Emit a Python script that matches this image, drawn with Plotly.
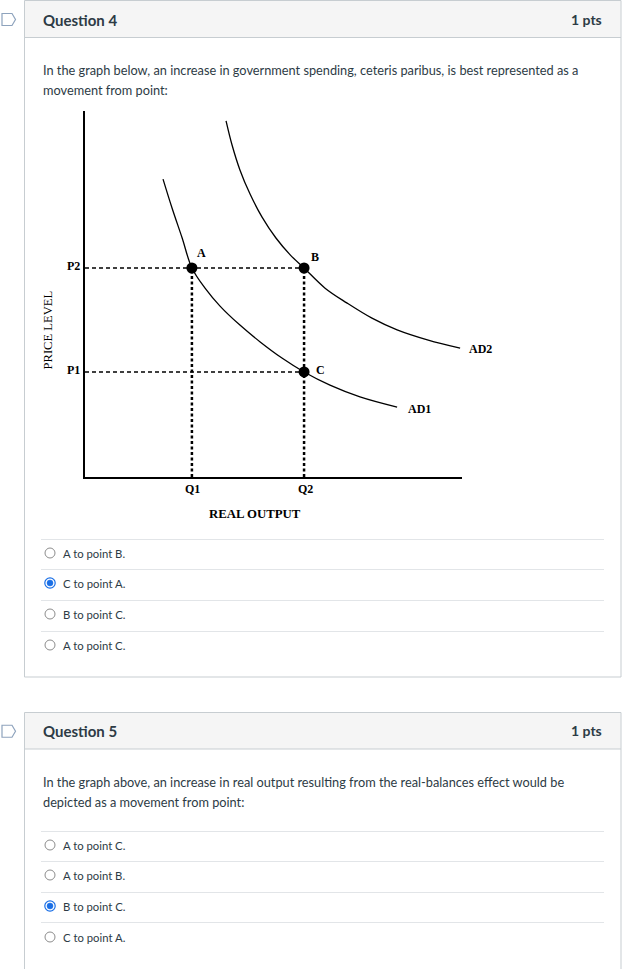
import plotly.graph_objects as go

W, H = 635, 969

# ---------------- data ----------------
q_labels = ["Q1", "Q2"]
q_levels = [2.85, 5.84]
p_labels = ["P1", "P2"]
p_levels = [2.87, 5.71]

ad1_x = [2.08, 2.32, 2.59, 2.85, 3.20, 3.60, 4.13, 4.67, 5.25, 5.84, 6.53, 7.33, 8.32]
ad1_y = [8.14, 7.35, 6.53, 5.71, 5.16, 4.67, 4.15, 3.69, 3.25, 2.87, 2.51, 2.19, 1.91]
ad2_x = [3.76, 3.92, 4.13, 4.40, 4.72, 5.09, 5.47, 5.84, 6.40, 6.99, 7.65, 8.32, 9.15, 10.0]
ad2_y = [9.73, 9.07, 8.39, 7.73, 7.10, 6.53, 6.07, 5.71, 5.16, 4.75, 4.34, 4.02, 3.74, 3.52]

point_names = ["A", "B", "C"]
point_x = [2.85, 5.84, 5.84]
point_y = [5.71, 5.71, 2.87]

q4_title = "Question 4"
q4_text = ["In the graph below, an increase in government spending, ceteris paribus, is best represented as a",
           "movement from point:"]
q4_options = ["A to point B.", "C to point A.", "B to point C.", "A to point C."]
q4_selected = 1
q5_title = "Question 5"
q5_text = ["In the graph above, an increase in real output resulting from the real-balances effect would be",
           "depicted as a movement from point:"]
q5_options = ["A to point C.", "A to point B.", "B to point C.", "C to point A."]
q5_selected = 2
pts_label = "1 pts"

# ---------------- helpers ----------------
def X(px):
    return px / W

def Y(py):
    return 1 - py / H

TXT = "#2d3b45"
BORDER = "#c7cdd1"
SEP = "#e2e5e8"
SERIF = "Liberation Serif"
SANS = "Lato"

fig = go.Figure()

# curves
fig.add_trace(go.Scatter(x=ad1_x, y=ad1_y, mode="lines", line=dict(color="black", width=1.3, shape="spline"),
                         hoverinfo="skip"))
fig.add_trace(go.Scatter(x=ad2_x, y=ad2_y, mode="lines", line=dict(color="black", width=1.3, shape="spline"),
                         hoverinfo="skip"))
# dashed guides
for p in p_levels:
    fig.add_trace(go.Scatter(x=[0, q_levels[1]], y=[p, p], mode="lines",
                             line=dict(color="black", width=1.5, dash="4px,3px"), hoverinfo="skip"))
for q in q_levels:
    fig.add_trace(go.Scatter(x=[q, q], y=[0, p_levels[1]], mode="lines",
                             line=dict(color="black", width=2.5, dash="3px,2.5px"), hoverinfo="skip"))
# points
fig.add_trace(go.Scatter(x=point_x, y=point_y, mode="markers",
                         marker=dict(color="black", size=11), hoverinfo="skip", cliponaxis=False))

annotations = []

def ann(**kw):
    kw.setdefault("showarrow", False)
    kw.setdefault("xanchor", "center")
    kw.setdefault("yanchor", "middle")
    annotations.append(kw)

lab_font = dict(family=SERIF, size=12, color="black")
shifts = {"A": (10, 15), "B": (11, 11), "C": (16, 2)}
for n, x, y in zip(point_names, point_x, point_y):
    dx, dy = shifts[n]
    ann(x=x, y=y, xref="x", yref="y", text="<b>%s</b>" % n, xshift=dx, yshift=dy, font=lab_font)
for lab, q in zip(q_labels, q_levels):
    ann(x=q, y=0, xref="x", yref="y", text="<b>%s</b>" % lab, yshift=-12, xshift=1, font=lab_font)
for lab, p in zip(p_labels, p_levels):
    ann(x=0, y=p, xref="x", yref="y", text="<b>%s</b>" % lab, xanchor="right", xshift=-3, yshift=2,
        font=lab_font)
ann(x=ad1_x[-1], y=ad1_y[-1], xref="x", yref="y", text="<b>AD1</b>", xanchor="left", xshift=9, yshift=-2,
    font=dict(family=SERIF, size=12, color="black"))
ann(x=ad2_x[-1], y=ad2_y[-1], xref="x", yref="y", text="<b>AD2</b>", xanchor="left", xshift=7, yshift=-1,
    font=dict(family=SERIF, size=12, color="black"))
ann(x=X(255.5), y=Y(514), xref="paper", yref="paper", text="<b>REAL OUTPUT</b>",
    font=dict(family=SERIF, size=12.8, color="black"))
ann(x=X(47.5), y=Y(330), xref="paper", yref="paper", text="PRICE LEVEL", textangle=-90,
    font=dict(family=SERIF, size=12.6, color="black"))

shapes = []

def rect(x0, y0, x1, y1, line=None, fill=None):
    shapes.append(dict(type="rect", xref="paper", yref="paper", x0=X(x0), x1=X(x1), y0=Y(y1), y1=Y(y0),
                       line=dict(color=line or "rgba(0,0,0,0)", width=1 if line else 0),
                       fillcolor=fill or "rgba(0,0,0,0)", layer="below"))

def hline(x0, x1, y, color, width=1):
    shapes.append(dict(type="line", xref="paper", yref="paper", x0=X(x0), x1=X(x1), y0=Y(y), y1=Y(y),
                       line=dict(color=color, width=width), layer="below"))

def circle(cx, cy, r, line, fill, width=1):
    shapes.append(dict(type="circle", xref="paper", yref="paper", x0=X(cx - r), x1=X(cx + r),
                       y0=Y(cy + r), y1=Y(cy - r), line=dict(color=line, width=width),
                       fillcolor=fill, layer="above"))

def icon(cy):
    pts = [(2, cy - 6), (12, cy - 6), (15.5, cy), (12, cy + 6), (2, cy + 6)]
    path = "M " + " L ".join("%f,%f" % (X(a), Y(b)) for a, b in pts) + " Z"
    shapes.append(dict(type="path", xref="paper", yref="paper", path=path,
                       line=dict(color="#8ea3bd", width=1.2), fillcolor="white", layer="below"))

def question(top, header_bottom, title, text_lines, text_y, options, opt_y, sep_y, selected, bottom):
    rect(25, header_bottom, 620.5, top + 0.5, fill="#f5f5f5")
    rect(24.5, top, 621, bottom, line=BORDER)
    hline(24.5, 621, header_bottom, BORDER)
    icon((top + header_bottom) / 2 + 0.5)
    ann(x=X(41), y=Y((top + header_bottom) / 2 + 0.5), xref="paper", yref="paper",
        text="<b>%s</b>" % title, xanchor="left", font=dict(family=SANS, size=15, color=TXT))
    ann(x=X(604), y=Y((top + header_bottom) / 2), xref="paper", yref="paper",
        text="<b>%s</b>" % pts_label, xanchor="right", font=dict(family=SANS, size=14, color=TXT))
    for t, ty in zip(text_lines, text_y):
        ann(x=X(40.5), y=Y(ty), xref="paper", yref="paper", text=t, xanchor="left",
            font=dict(family=SANS, size=12.75, color=TXT))
    for sy in sep_y:
        hline(41, 604, sy, SEP)
    for i, (o, oy) in enumerate(zip(options, opt_y)):
        ann(x=X(60.5), y=Y(oy), xref="paper", yref="paper", text=o, xanchor="left",
            font=dict(family=SANS, size=11.3, color=TXT))
        if i == selected:
            circle(50, oy, 5.2, "#1a6fe6", "white", 1.2)
            circle(50, oy, 3.0, "#1a6fe6", "#1a6fe6", 0.5)
        else:
            circle(50, oy, 5.0, "#8c8c8c", "white", 1)

question(0.5, 37.5, q4_title, q4_text, [70, 89.5], q4_options, [553, 583, 614, 645],
         [539.5, 569.5, 600.5, 631.5], q4_selected, 677)
question(712.5, 749, q5_title, q5_text, [781.5, 801.5], q5_options, [845, 875, 906, 937],
         [831.5, 861.5, 892.5, 922.5], q5_selected, 990)

fig.update_layout(
    width=W, height=H, margin=dict(l=0, r=0, t=0, b=0), autosize=False,
    paper_bgcolor="white", plot_bgcolor="rgba(0,0,0,0)", showlegend=False,
    xaxis=dict(domain=[X(85), X(462)], range=[0, 10.05], showline=True, linecolor="black", linewidth=2,
               showgrid=False, zeroline=False, showticklabels=False, ticks="", fixedrange=True),
    yaxis=dict(domain=[Y(477), Y(111)], range=[0, 10], showline=True, linecolor="black", linewidth=2,
               showgrid=False, zeroline=False, showticklabels=False, ticks="", fixedrange=True),
    annotations=annotations, shapes=shapes,
)

fig.write_html("out.html", config=dict(displayModeBar=False),
               post_script="document.body.style.margin='0px';document.body.style.overflow='hidden';")
